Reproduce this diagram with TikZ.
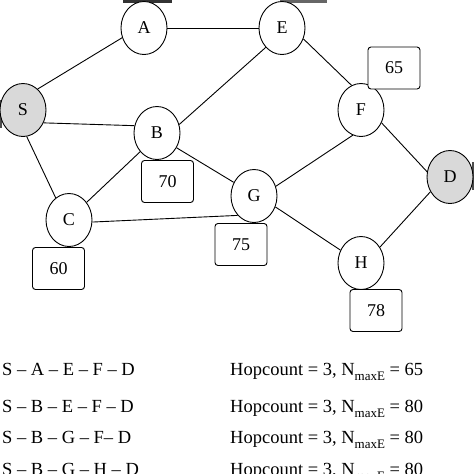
\documentclass[tikz,border=0pt]{standalone}
\usepackage{fontspec}
\setmainfont{Liberation Serif}
\usetikzlibrary{shapes.geometric}
\definecolor{termgray}{HTML}{D9D9D9}
\begin{document}
\begin{tikzpicture}[x=1pt,y=-1pt,
  vert/.style={ellipse, draw, line width=0.9pt, minimum width=46pt, minimum height=53pt, inner sep=0pt, fill=white, font=\fontsize{18}{20}\selectfont},
  termvert/.style={vert, fill=termgray},
  loadbox/.style={draw, rounded corners=3pt, line width=0.9pt, minimum width=52pt, minimum height=42pt, inner sep=0pt, fill=white, font=\fontsize{18}{20}\selectfont},
  link/.style={line width=0.9pt},
  routetxt/.style={anchor=base west, inner sep=0pt, font=\fontsize{18.5}{22}\selectfont}
]
\useasboundingbox (0,0) rectangle (474,474);
\begin{scope}
\clip (0,0) rectangle (474,474);
% cropped remnants at the edges
\fill[black!80] (123,0) rectangle (172,2.5);
\fill[black!60] (280,0) rectangle (327,2.5);
\fill[black!70] (0,100) rectangle (1.8,128);
\fill[black!70] (472.2,162) rectangle (474,190);

\node[termvert] (S) at (23,110) {S};
\node[vert] (A) at (144,28) {A};
\node[vert] (E) at (282,28) {E};
\node[vert] (B) at (157,133) {B};
\node[vert] (F) at (361,110) {F};
\node[termvert] (D) at (450,177) {D};
\node[vert] (G) at (254,196) {G};
\node[vert] (C) at (69,220) {C};
\node[vert] (H) at (361,263) {H};

\draw[link] (S.55) -- (A.204);
\draw[link] (A) -- (E);
\draw[link] (S.-32) -- (B.162);
\draw[link] (B.21) -- (E.230);
\draw[link] (E.-27) -- (F.111);
\draw[link] (F.-32) -- (D.167);
\draw[link] (F.252) -- (G.24);
\draw[link] (S.-82) -- (C.121);
\draw[link] (B.228) -- (C.45);
\draw[link] (B.-37) -- (G.146);
\draw[link] (C.-5) -- (G.230);
\draw[link] (G.-27) -- (H.148);
\draw[link] (H.40) -- (D.217);

\node[loadbox] (L65) at (394,68) {65};
\node[loadbox] (L70) at (167.5,181.5) {70};
\node[loadbox] (L75) at (241,244.5) {75};
\node[loadbox] (L60) at (58.5,268.5) {60};
\node[loadbox] (L78) at (376,310.5) {78};

\newcommand{\nmaxe}{N\raisebox{-0.28em}{\fontsize{13}{13}\selectfont maxE}}
\node[routetxt] (r1) at (2,375) {S – A – E – F – D};
\node[routetxt] (r2) at (2,412) {S – B – E – F – D};
\node[routetxt] (r3) at (2,443) {S – B – G – F– D};
\node[routetxt] (r4) at (2,475) {S – B – G – H – D};
\node[routetxt] (h1) at (230,375) {Hopcount = 3, \nmaxe{} = 65};
\node[routetxt] (h2) at (230,412) {Hopcount = 3, \nmaxe{} = 80};
\node[routetxt] (h3) at (230,443) {Hopcount = 3, \nmaxe{} = 80};
\node[routetxt] (h4) at (230,475) {Hopcount = 3, \nmaxe{} = 80};
\end{scope}
\end{tikzpicture}
\end{document}
